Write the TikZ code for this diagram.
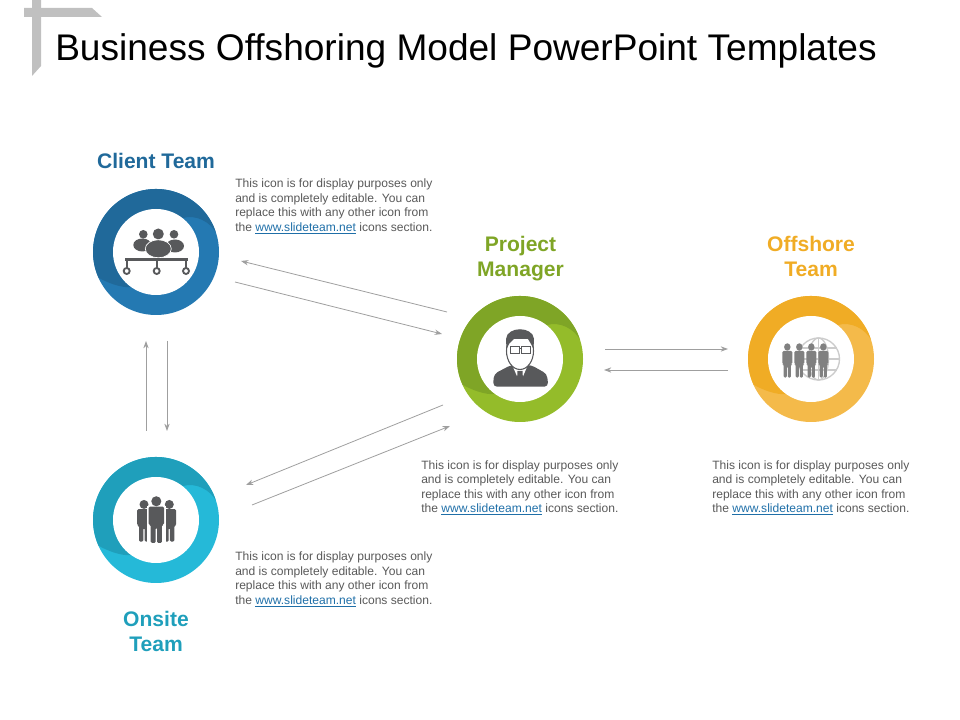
\documentclass[tikz,border=0pt]{standalone}
\usepackage{fontspec}
\setmainfont{Liberation Sans}
\usepackage{tikz}
\usetikzlibrary{arrows.meta, calc, positioning}
\definecolor{clientlight}{HTML}{2479B2}
\definecolor{clientdark}{HTML}{20699A}
\definecolor{managerlight}{HTML}{94BC2A}
\definecolor{managerdark}{HTML}{7FA526}
\definecolor{offshorelight}{HTML}{F4BA4A}
\definecolor{offshoredark}{HTML}{F0AC25}
\definecolor{onsitelight}{HTML}{25B9D8}
\definecolor{onsitedark}{HTML}{1F9FBB}
\definecolor{icongray}{HTML}{58595B}
\definecolor{notegray}{HTML}{595959}
\definecolor{linkblue}{HTML}{1F6FA8}
\definecolor{cornergray}{HTML}{C0C0C0}
\tikzstyle{ring} = [circle, minimum size=94.5pt, inner sep=0pt]
\tikzstyle{hole} = [circle, minimum size=64.5pt, inner sep=0pt, fill=white]
\tikzstyle{heading} = [font=\bfseries\fontsize{15.8}{18.75}\selectfont, align=center]
\tikzstyle{note} = [anchor=west, inner sep=0pt, align=left, text=notegray, font=\fontsize{9.05}{10.8}\selectfont]
\tikzstyle{arrow} = [draw=gray!75, line width=0.6pt, -{Stealth[length=5.5pt, width=4pt]}]
\tikzset{figure/.pic={
	\fill[pic actions, rounded corners=1pt] (-.55,2.6) -- (.55,2.6) -- (.55,1.3) -- (.4,1.3) -- (.4,0) -- (.05,0) -- (.05,1.1) -- (-.05,1.1) -- (-.05,0) -- (-.4,0) -- (-.4,1.3) -- (-.55,1.3) -- cycle;
	\fill[pic actions] (0,2.98) circle (.36);
}}
\newcommand{\swirl}[2]{
	\fill[#2] ($(#1)+(18:63)$) arc[start angle=18, end angle=204, radius=63]
		.. controls ($(#1)+(-50,-30)$) and ($(#1)+(-36,-36)$) .. ($(#1)+(235:43)$)
		arc[start angle=235, end angle=52, radius=43]
		.. controls ($(#1)+(40,38)$) and ($(#1)+(54,30)$) .. cycle;
}
\newcommand{\notetext}{This icon is for display purposes only\\and is completely editable. You can\\replace this with any other icon from\\the {\color{linkblue}\underline{www.slideteam.net}} icons section.}

\begin{document}
\begin{tikzpicture}[x=0.75pt, y=0.75pt]
	\useasboundingbox (0,0) rectangle (960,720);
	% corner mark
	\fill[cornergray] (32,720) -- (41,720) -- (41,654) -- (32,644) -- cycle;
	\fill[cornergray] (24,712) -- (92,712) -- (102,703) -- (24,703) -- cycle;
	\node (title) [anchor=west, inner sep=0pt, font=\fontsize{27.8}{32}\selectfont] at (55,669.5) {Business Offshoring Model PowerPoint Templates};

	% rings
	\node (client) [ring, fill=clientlight] at (156,468) {};
	\node (manager) [ring, fill=managerlight] at (520,361) {};
	\node (offshore) [ring, fill=offshorelight] at (811,361) {};
	\node (onsite) [ring, fill=onsitelight] at (156,200) {};
	\swirl{client}{clientdark}
	\swirl{manager}{managerdark}
	\swirl{offshore}{offshoredark}
	\swirl{onsite}{onsitedark}
	\node (clienthole) [hole] at (client) {};
	\node (managerhole) [hole] at (manager) {};
	\node (offshorehole) [hole] at (offshore) {};
	\node (onsitehole) [hole] at (onsite) {};

	% headings
	\node (clienthead) [heading, text=clientdark] at (156,559.5) {Client Team};
	\node (managerhead) [heading, text=managerdark] at (520.5,461) {Project\\Manager};
	\node (offshorehead) [heading, text=offshoredark] at (811,463.5) {Offshore\\Team};
	\node (onsitehead) [heading, text=onsitedark] at (156,89) {Onsite\\Team};

	% notes
	\node (clientnote) [note] at (235,513.5) {\notetext};
	\node (managernote) [note] at (421,232) {\notetext};
	\node (offshorenote) [note] at (712,232) {\notetext};
	\node (onsitenote) [note] at (235,140.5) {\notetext};

	% arrow ends
	\coordinate (mc1) at (447,408);
	\coordinate (cm1) at (241,459);
	\coordinate (cm2) at (235,438);
	\coordinate (mc2) at (442,386);
	\coordinate (mf1) at (605,371);
	\coordinate (fm1) at (728,371);
	\coordinate (fm2) at (728,350);
	\coordinate (mf2) at (604,350);
	\coordinate (mo1) at (443,315);
	\coordinate (om1) at (246,235);
	\coordinate (om2) at (252,215);
	\coordinate (mo2) at (450,294);
	\coordinate (oc1) at (146,289);
	\coordinate (co1) at (146,379);
	\coordinate (co2) at (167,379);
	\coordinate (oc2) at (167,289);

	\draw [arrow] (mc1) -- (cm1);
	\draw [arrow] (cm2) -- (mc2);
	\draw [arrow] (mf1) -- (fm1);
	\draw [arrow] (fm2) -- (mf2);
	\draw [arrow] (mo1) -- (om1);
	\draw [arrow] (om2) -- (mo2);
	\draw [arrow] (oc1) -- (co1);
	\draw [arrow] (co2) -- (oc2);

	% client icon
	\begin{scope}[shift={(client)}]
		\fill[icongray] (-13.7,7) ellipse (9 and 6.5);
		\fill[icongray] (19,6) ellipse (9 and 6.5);
		\fill[icongray] (-12.7,17.7) circle (4.3);
		\fill[icongray] (18,17.7) circle (4.3);
		\fill[icongray] (2.3,18) circle (5.5);
		\fill[icongray, draw=white, line width=0.5pt] (2.3,3.2) ellipse (13 and 9);
		\draw[icongray, line width=2.5pt] (-31,-7.3) -- (32,-7.3);
		\foreach \x in {-29.3,0.7,30} {
			\draw[icongray, line width=1.8pt] (\x,-7.3) -- (\x,-16);
			\draw[icongray, line width=1.4pt, fill=white] (\x,-19) circle (3);
		}
	\end{scope}

	% manager icon
	\begin{scope}[shift={(manager)}]
		\fill[icongray, rounded corners=3pt] (-27,-27.7) -- (-26,-15) -- (-9,-6) -- (11,-6) -- (27,-15) -- (28.3,-27.7) -- cycle;
		\fill[white] (-7,-8) -- (7,-8) -- (1,-22) -- (0,-24) -- cycle;
		\fill[icongray] (-2.5,-12) -- (2.5,-12) -- (3,-21) -- (0,-25) -- (-3,-21) -- cycle;
		\fill[white, draw=icongray, line width=0.8pt] (0,8) ellipse (13.5 and 18.5);
		\fill[icongray] (-13.5,10) -- (-14,20) .. controls (-13,33) and (13,33) .. (14,20) -- (13.5,10) -- (11,15) -- (8,20) -- (-6,20) -- (-11,15) -- cycle;
		\draw[icongray, line width=0.7pt, fill=white] (-10,6) rectangle (-1,13);
		\draw[icongray, line width=0.7pt, fill=white] (1,6) rectangle (10.5,13);
		\draw[icongray, line width=0.7pt] (-1,11) -- (1,11);
	\end{scope}

	% offshore icon
	\begin{scope}[shift={(offshore)}]
		\draw[gray!40, line width=1pt] (7.5,0) circle (21);
		\draw[gray!40, line width=1pt] (7.5,0) ellipse (10 and 21);
		\draw[gray!40, line width=1pt] (7.5,-21) -- (7.5,21);
		\draw[gray!40, line width=1pt] (-13.5,0) -- (28.5,0);
		\draw[gray!40, line width=1pt] (-10.5,11) -- (25.5,11);
		\draw[gray!40, line width=1pt] (-10.5,-11) -- (25.5,-11);
		\foreach \x in {-23.7,-11.7,0.3,12.3} {
			\pic[xscale=9, yscale=10.3, gray] at (\x,-18.7) {figure};
		}
	\end{scope}

	% onsite icon
	\begin{scope}[shift={(onsite)}]
		\pic[scale=12.5, icongray] at (-12,-21.7) {figure};
		\pic[scale=12.5, icongray] at (13.3,-21.7) {figure};
		\fill[white] (-9.5,-24.5) rectangle (10,14);
		\pic[scale=14, icongray] at (0.3,-23) {figure};
	\end{scope}
\end{tikzpicture}
\end{document}
